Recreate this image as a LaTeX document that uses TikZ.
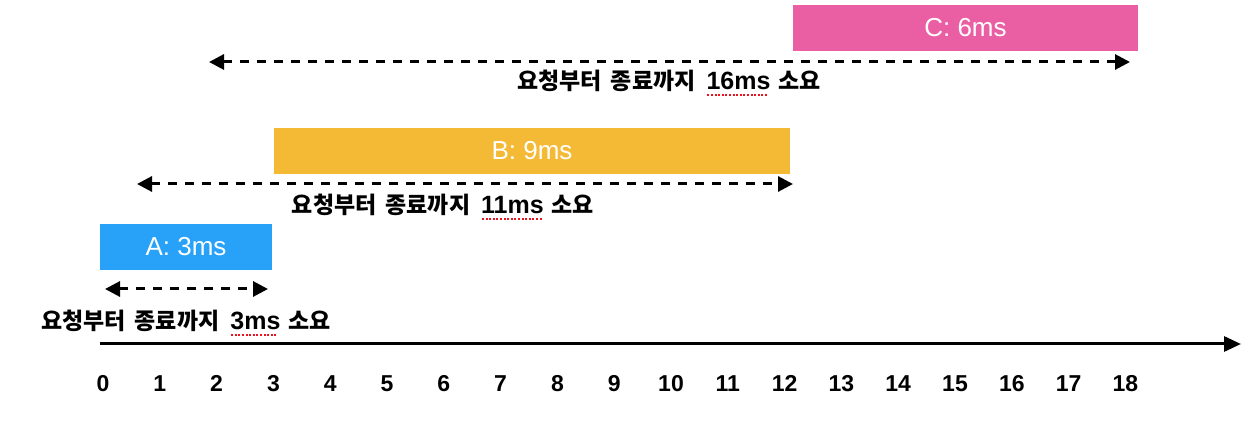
\documentclass[tikz,border=0pt]{standalone}
\usepackage{fontspec}
\setmainfont{Liberation Sans}
\newfontfamily\krfont{Noto Sans CJK KR}
\usetikzlibrary{arrows.meta}
\definecolor{cA}{RGB}{39,162,248}
\definecolor{cB}{RGB}{244,186,54}
\definecolor{cC}{RGB}{234,95,164}
\definecolor{sq}{RGB}{235,20,30}
\newcommand\squig[1]{\setbox0\hbox{#1}\rlap{\raisebox{-6pt}{\color{sq}\leaders\hbox to 3.6pt{\hss\rule{2pt}{2pt}\hss}\hskip\wd0}}\box0}
\newcommand\lbl[1]{{\fontsize{23}{23}\selectfont\krfont\bfseries 요청부터\hspace{9pt}종료까지}\hspace{11pt}{\fontsize{25}{25}\selectfont\bfseries\squig{#1}}\hspace{8pt}{\fontsize{23}{23}\selectfont\krfont\bfseries 소요}}
\tikzset{
  bar/.style={inner sep=0pt, outer sep=0pt, text=white, font=\fontsize{26}{26}\selectfont},
  span/.style={line width=3pt, dash pattern=on 9pt off 8pt, {Triangle[length=15pt,width=15pt]}-{Triangle[length=15pt,width=15pt]}},
  spanlbl/.style={inner sep=0pt},
  tick/.style={font=\fontsize{23}{23}\selectfont\bfseries, inner sep=0pt, anchor=base},
}
\begin{document}
\begin{tikzpicture}[x=1pt,y=-1pt]
\useasboundingbox (0,0) rectangle (1256,438);
% bars
\node[bar, fill=cA, minimum width=172pt, minimum height=46pt] (A) at (186,247) {A: 3ms};
\node[bar, fill=cB, minimum width=516pt, minimum height=46pt] (B) at (532,151) {B: 9ms};
\node[bar, fill=cC, minimum width=345pt, minimum height=46pt] (C) at (965.5,28) {C: 6ms};
% spans
\coordinate (a1) at (105,289); \coordinate (a2) at (268,289);
\coordinate (b1) at (137,184); \coordinate (b2) at (793,184);
\coordinate (c1) at (209,62); \coordinate (c2) at (1130,62);
\draw[span] (a1) -- (a2);
\draw[span] (b1) -- (b2);
\draw[span] (c1) -- (c2);
\node[spanlbl] (la) at (186,323) {\lbl{3ms}};
\node[spanlbl] (lb) at (443,207) {\lbl{11ms}};
\node[spanlbl] (lc) at (669,83) {\lbl{16ms}};
% axis
\coordinate (ax0) at (100,344); \coordinate (ax1) at (1241,344);
\draw[line width=3pt, -{Triangle[length=17pt,width=15pt]}] (ax0) -- (ax1);
\foreach \i in {0,...,18} {
  \node[tick] (t\i) at ({103+56.8*\i},391) {\i};
}
\end{tikzpicture}
\end{document}
